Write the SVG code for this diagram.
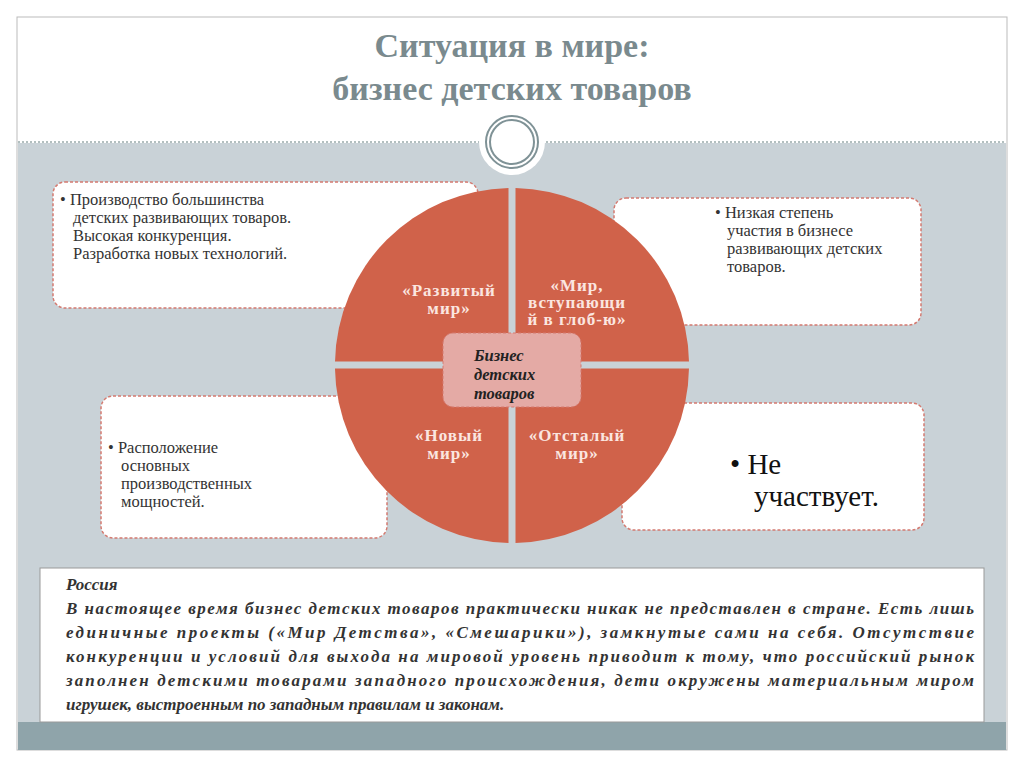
<svg xmlns="http://www.w3.org/2000/svg" width="1024" height="768" viewBox="0 0 1024 768">
<style>
.box{fill:#fff;stroke:#d47a70;stroke-width:1.5;stroke-dasharray:3 2}
.t{font-family:"Liberation Serif",serif;font-size:16.5px;fill:#333}
.q{fill:#d0624a}
.ql{font-family:"Liberation Serif",serif;font-size:17px;font-weight:bold;fill:#fbe6e0;text-anchor:middle;letter-spacing:1px}
.b{font-family:"Liberation Serif",serif;font-size:16.5px;font-style:italic;font-weight:bold;fill:#222}
</style>
<rect width="1024" height="768" fill="#fff"/>
<rect x="17" y="17" width="990" height="733" fill="#fff" stroke="#bbb"/>
<rect x="18" y="143" width="988" height="607" fill="#c9d2d7"/>
<rect x="18" y="722" width="988" height="28" fill="#8fa4aa"/>
<line x1="18" y1="142" x2="1006" y2="142" stroke="#9aa" stroke-width="1.5" stroke-dasharray="2 2"/>
<text x="512" y="57" text-anchor="middle" font-family="Liberation Serif,serif" font-size="34" font-weight="bold" fill="#7a8a8e">Ситуация в мире:</text>
<text x="512" y="100" text-anchor="middle" font-family="Liberation Serif,serif" font-size="34" font-weight="bold" fill="#7a8a8e">бизнес детских товаров</text>
<circle cx="512" cy="142" r="33" fill="#fff"/>
<circle cx="512" cy="142" r="26" fill="none" stroke="#7f9296" stroke-width="2"/>
<circle cx="512" cy="142" r="22" fill="none" stroke="#7f9296" stroke-width="2"/>
<g id="n1"><rect class="box" x="53" y="182" width="425" height="126" rx="12"/>
<text class="t" x="60" y="205">• Производство большинства</text>
<text class="t" x="73" y="223">детских развивающих товаров.</text>
<text class="t" x="73" y="241">Высокая конкуренция.</text>
<text class="t" x="73" y="259">Разработка новых технологий.</text></g>
<g id="n2"><rect class="box" x="614" y="198" width="307" height="127" rx="12"/>
<text class="t" x="715" y="218">• Низкая степень</text>
<text class="t" x="727" y="236">участия в бизнесе</text>
<text class="t" x="727" y="254">развивающих детских</text>
<text class="t" x="727" y="272">товаров.</text></g>
<g id="n3"><rect class="box" x="101" y="396" width="286" height="142" rx="12"/>
<text class="t" x="108" y="453">• Расположение</text>
<text class="t" x="121" y="471">основных</text>
<text class="t" x="121" y="489">производственных</text>
<text class="t" x="121" y="507">мощностей.</text></g>
<g id="n4"><rect class="box" x="622" y="403" width="302" height="127" rx="12"/>
<text x="730" y="474" font-family="Liberation Serif,serif" font-size="29" fill="#111">• Не</text>
<text x="754" y="506" font-family="Liberation Serif,serif" font-size="29" fill="#111">участвует.</text></g>
<g id="circle">
<path class="q" d="M508.5,361.5 L508.5,188 A177,177 0 0 0 335,361.5 Z"/>
<path class="q" d="M515.5,361.5 L515.5,188 A177,177 0 0 1 689,361.5 Z"/>
<path class="q" d="M508.5,368.5 L508.5,543 A177,177 0 0 1 335,368.5 Z"/>
<path class="q" d="M515.5,368.5 L515.5,543 A177,177 0 0 0 689,368.5 Z"/>
<text class="ql" x="449" y="296">«Развитый</text><text class="ql" x="449" y="314">мир»</text>
<text class="ql" x="577" y="291">«Мир,</text><text class="ql" x="577" y="308">вступающи</text><text class="ql" x="577" y="325">й в глоб-ю»</text>
<text class="ql" x="449" y="441">«Новый</text><text class="ql" x="449" y="459">мир»</text>
<text class="ql" x="577" y="441">«Отсталый</text><text class="ql" x="577" y="459">мир»</text>
</g>
<g id="center"><rect x="443" y="333" width="138" height="74" rx="10" fill="#e4aaa5" stroke="#d47a70" stroke-dasharray="3 2"/>
<text class="b" x="474" y="361">Бизнес</text><text class="b" x="474" y="380">детских</text><text class="b" x="474" y="399">товаров</text></g>
<g id="bottom"><rect x="40" y="568" width="944" height="154" fill="#fff" stroke="#999"/>
<g font-family="Liberation Serif,serif" font-size="17" font-style="italic" font-weight="bold" fill="#333">
<text x="66" y="590">Россия</text>
<text x="66" y="614" textLength="908" lengthAdjust="spacing">В настоящее время бизнес детских товаров практически никак не представлен в стране. Есть лишь</text>
<text x="66" y="638" textLength="908" lengthAdjust="spacing">единичные проекты  («Мир Детства», «Смешарики»), замкнутые сами на себя. Отсутствие</text>
<text x="66" y="662" textLength="908" lengthAdjust="spacing">конкуренции и условий для выхода на мировой уровень приводит к тому, что российский рынок</text>
<text x="66" y="686" textLength="908" lengthAdjust="spacing">заполнен детскими товарами западного происхождения, дети окружены материальным миром</text>
<text x="66" y="710">игрушек, выстроенным по западным правилам и законам.</text>
</g></g>
</svg>
